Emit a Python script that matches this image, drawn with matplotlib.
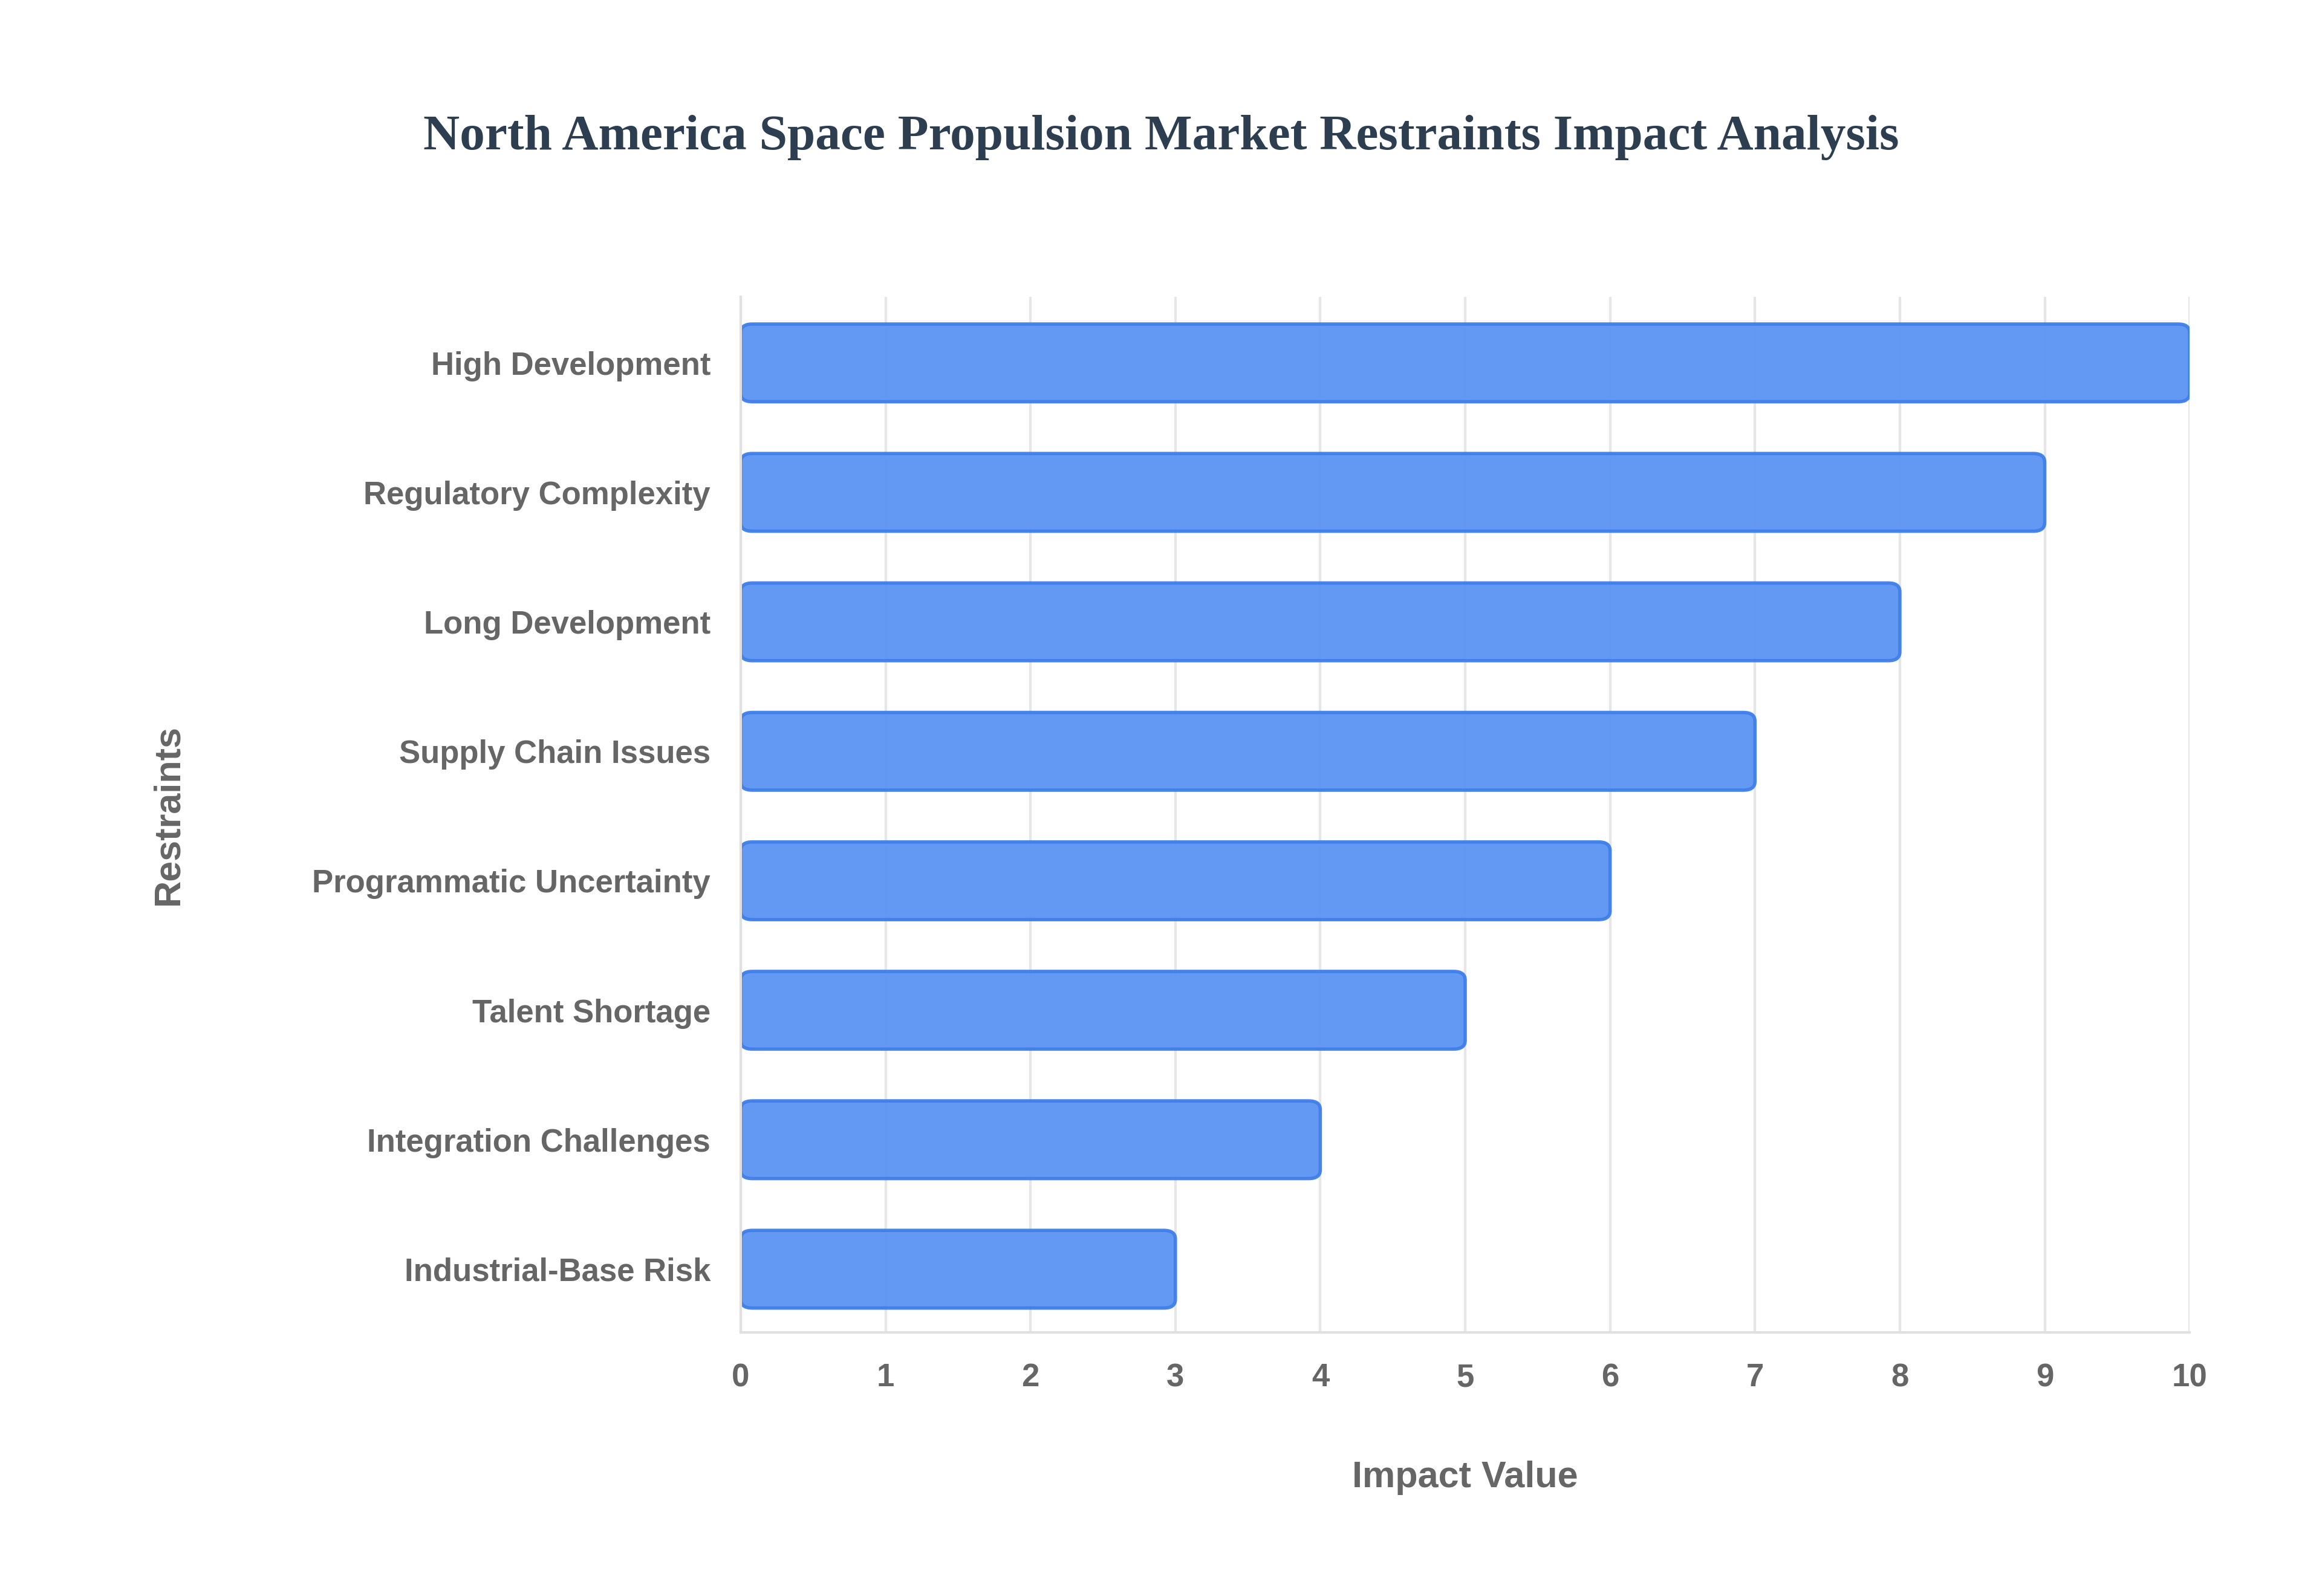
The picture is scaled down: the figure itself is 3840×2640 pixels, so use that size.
import matplotlib.pyplot as plt
from matplotlib.patches import FancyBboxPatch

restraints = ["High Development", "Regulatory Complexity", "Long Development",
              "Supply Chain Issues", "Programmatic Uncertainty", "Talent Shortage",
              "Integration Challenges", "Industrial-Base Risk"]
impact = [10, 9, 8, 7, 6, 5, 4, 3]

lab_font = ['Liberation Sans', 'DejaVu Sans']
gray = '#666666'

fig = plt.figure(figsize=(19.2, 13.2), dpi=200)
ax = fig.add_axes([0.319, 0.165, 0.624, 0.649])

ypos = list(range(len(restraints)))[::-1]
for y, v in zip(ypos, impact):
    p = FancyBboxPatch((0, y - 0.3), v, 0.6,
                       boxstyle="round,pad=0,rounding_size=0.08",
                       mutation_aspect=1 / 0.12 * 0.1,
                       facecolor='#5b93f3', edgecolor='#3f7fe8', linewidth=2, alpha=0.95)
    ax.add_patch(p)

ax.set_xlim(0, 10)
ax.set_ylim(-0.49, 7.51)
ax.set_yticks(ypos)
ax.set_yticklabels(restraints)
ax.set_xticks(range(11))
ax.grid(axis='x', color='#e6e6e6', linewidth=1.5)
ax.set_axisbelow(True)
for s in ['top', 'right']:
    ax.spines[s].set_visible(False)
for s in ['left', 'bottom']:
    ax.spines[s].set_color('#e0e0e0')
    ax.spines[s].set_linewidth(1.5)
ax.tick_params(length=0, pad=18, colors=gray)
for t in ax.get_xticklabels() + ax.get_yticklabels():
    t.set_family(lab_font)
    t.set_fontweight('bold')
    t.set_fontsize(19)
    t.set_color(gray)

ax.set_xlabel('Impact Value', family=lab_font, fontweight='bold', fontsize=22,
              color=gray, labelpad=40)
ax.set_ylabel('Restraints', family=lab_font, fontweight='bold', fontsize=22,
              color=gray)
ax.yaxis.set_label_coords(-0.383, 0.5)

fig.text(0.5, 0.914, 'North America Space Propulsion Market Restraints Impact Analysis',
         ha='center', va='center', family=['Liberation Serif', 'DejaVu Serif'],
         fontweight='bold', fontsize=30, color='#2c3e50')

fig.savefig('out.png', dpi=200, facecolor='white')
